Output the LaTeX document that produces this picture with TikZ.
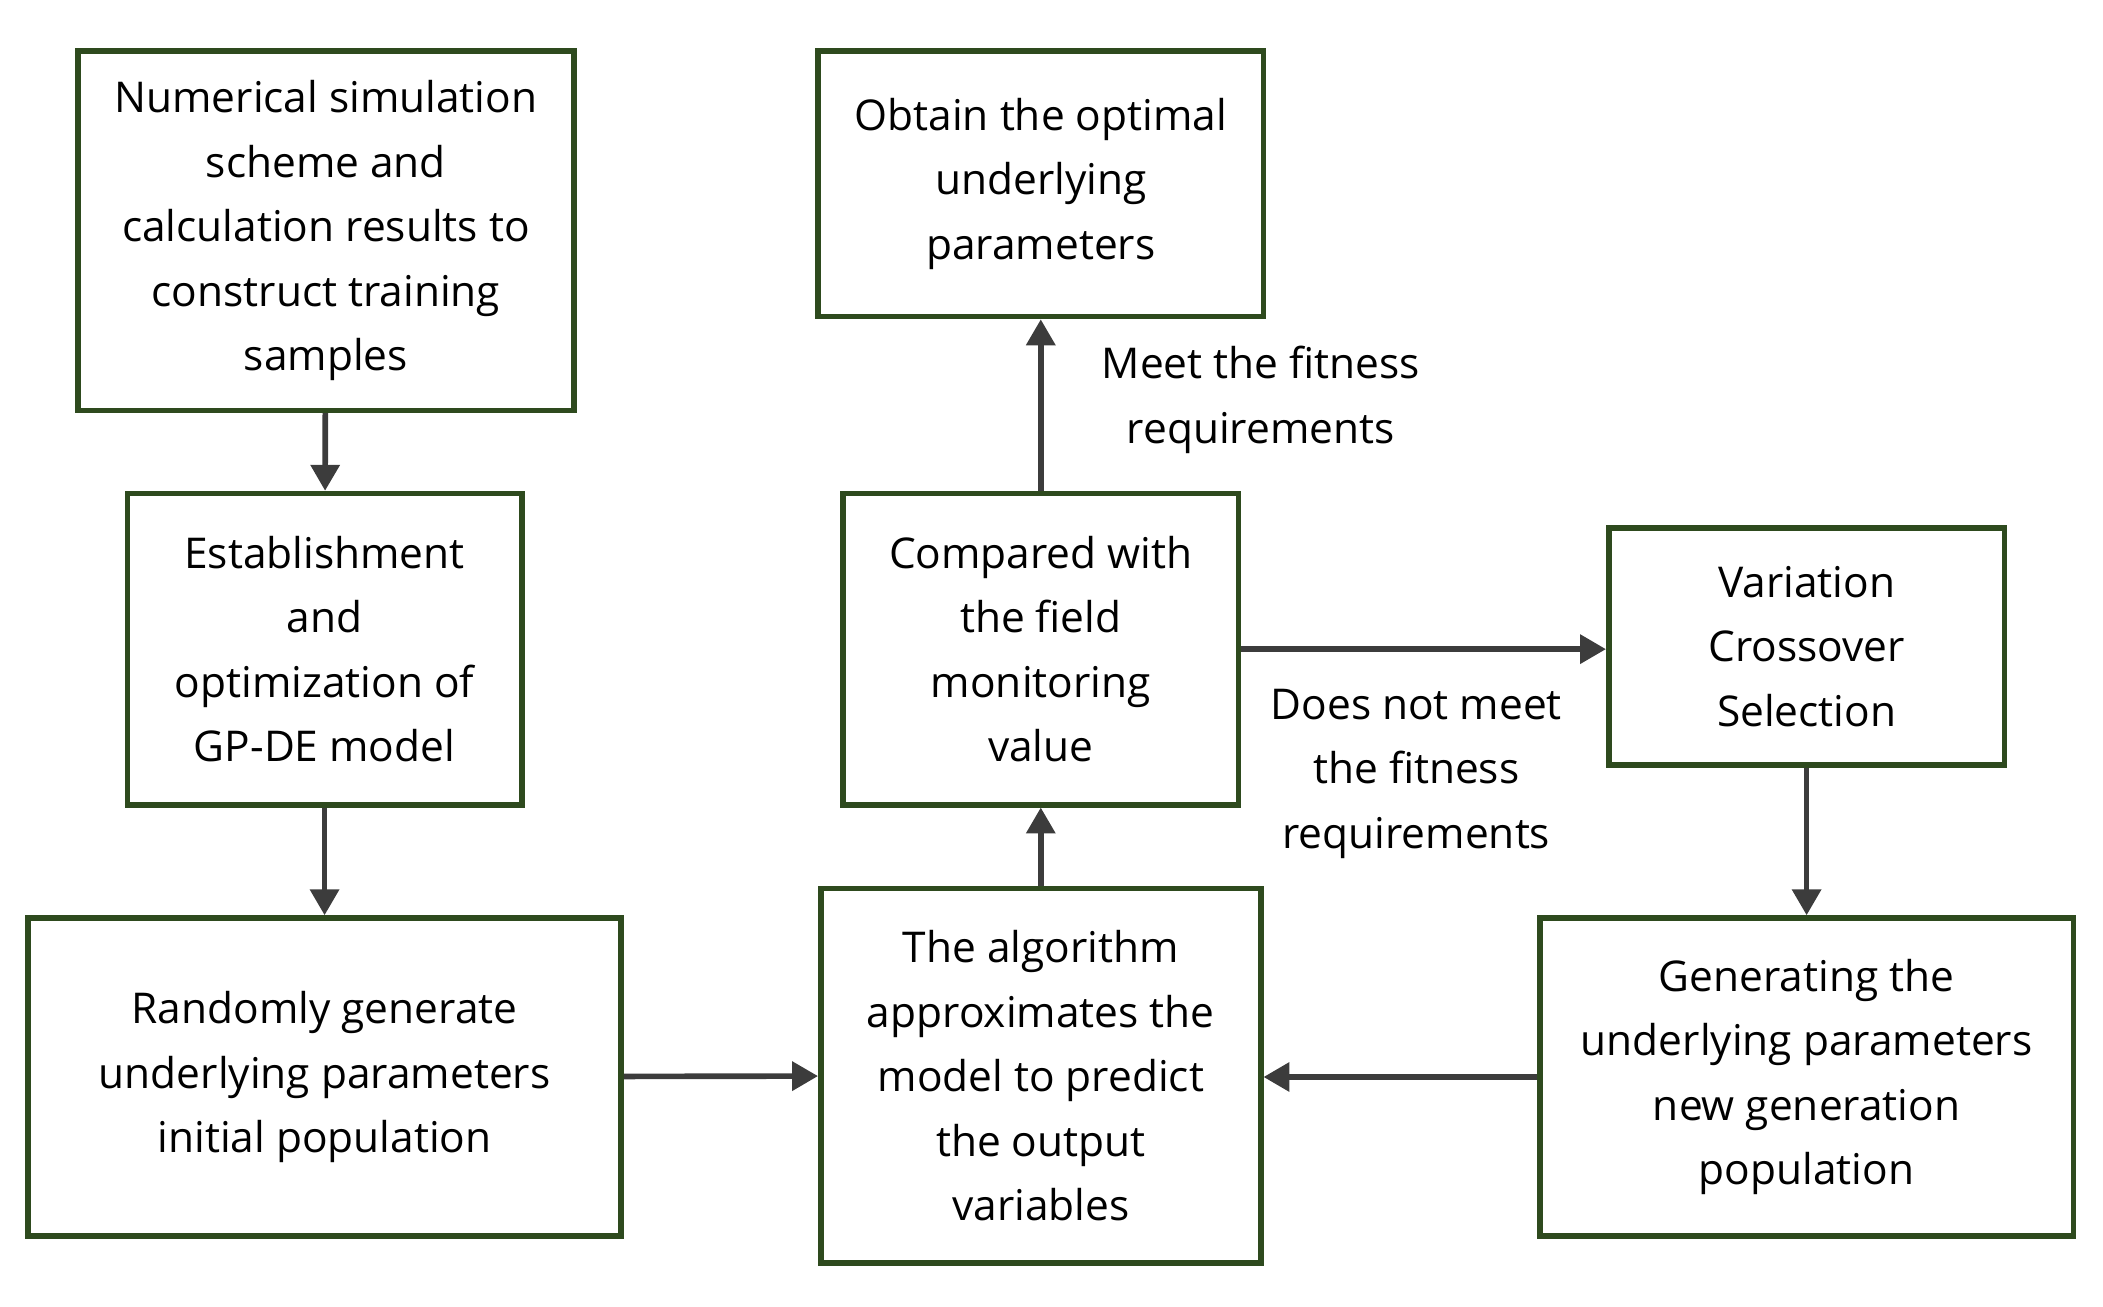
\documentclass[tikz,border=0pt]{standalone}
\usepackage{fontspec}
\setmainfont{Open Sans}
\usetikzlibrary{arrows.meta}
\begin{document}
\begin{tikzpicture}[x=0.02cm,y=-0.02cm,
  box/.style={draw=boxc,line width=2.4pt,align=center,inner sep=0pt,font=\fontsize{18}{27.4}\selectfont},
  lab/.style={align=center,font=\fontsize{18}{27.4}\selectfont},
  arr/.style={draw=arrc,line width=2.4pt,-{Triangle[length=11pt,width=12pt]}}]
\definecolor{boxc}{HTML}{2E4A1E}
\definecolor{arrc}{HTML}{3C3C3C}
\useasboundingbox (0,0) rectangle (1568,974);
\node[box,minimum width=7.40cm,minimum height=5.36cm] (A) at (243,172) {Numerical simulation\\scheme and\\calculation results to\\construct training\\samples};
\node[box,minimum width=5.88cm,minimum height=4.64cm] (B) at (242,484) {Establishment\\and\\optimization of\\GP-DE model};
\node[box,minimum width=8.84cm,minimum height=4.74cm] (C) at (242,803) {Randomly generate\\underlying parameters\\initial population};
\node[box,minimum width=6.56cm,minimum height=5.58cm] (D) at (776,802) {The algorithm\\approximates the\\model to predict\\the output\\variables};
\node[box,minimum width=5.90cm,minimum height=4.64cm] (E) at (776,484) {Compared with\\the field\\monitoring\\value};
\node[box,minimum width=6.64cm,minimum height=3.96cm] (F) at (776,137) {Obtain the optimal\\underlying\\parameters};
\node[box,minimum width=5.90cm,minimum height=3.54cm] (G) at (1347,482) {Variation\\Crossover\\Selection};
\node[box,minimum width=7.96cm,minimum height=4.74cm] (H) at (1347,803) {Generating the\\underlying parameters\\new generation\\population};
\node[lab] (L1) at (940,298) {Meet the fitness\\requirements};
\node[lab] (L2) at (1056,577) {Does not meet\\the fitness\\requirements};
\draw[arr] (A) -- (B);
\draw[arr] (B) -- (C);
\draw[arr] (C) -- (D);
\draw[arr] (D) -- (E);
\draw[arr] (E) -- (F);
\draw[arr] (E.east) -- (G.west |- E.east);
\draw[arr] (G) -- (H);
\draw[arr] (H.west) -- (D.east |- H.west);
\end{tikzpicture}
\end{document}
